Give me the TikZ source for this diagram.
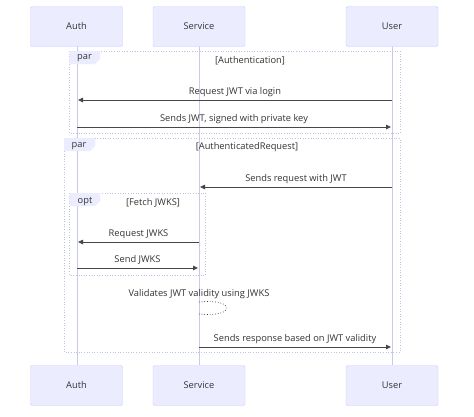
\documentclass[tikz,border=0pt]{standalone}
\usepackage{fontspec}
\setmainfont{Open Sans}
\usetikzlibrary{arrows.meta}
\definecolor{actfill}{HTML}{ECECFF}
\definecolor{actline}{HTML}{CCCCFF}
\definecolor{lifeline}{HTML}{C8C8F0}
\definecolor{framec}{HTML}{C0C0E0}
\definecolor{txt}{HTML}{333333}
\tikzset{
  actor/.style={draw=actline, fill=actfill, rounded corners=1.5pt, minimum width=92pt, minimum height=40pt, inner sep=0pt, font=\fontsize{9.3}{11}\selectfont, text=txt},
  msg/.style={draw=txt!90, line width=0.8pt, -{Triangle[length=5pt,width=4.5pt]}},
  msglabel/.style={font=\fontsize{9.3}{11}\selectfont, text=txt, inner sep=0pt},
  life/.style={draw=lifeline, line width=0.6pt},
  frame/.style={draw=framec, dotted, line width=0.6pt},
  tab/.style={fill=actfill, draw=none},
  tablabel/.style={font=\fontsize{9.3}{11}\selectfont, text=txt, inner sep=0pt, anchor=west},
  condlabel/.style={font=\fontsize{9.3}{11}\selectfont, text=txt, inner sep=0pt}
}
\begin{document}
\begin{tikzpicture}[x=1pt,y=-1pt]
\useasboundingbox (0,0) rectangle (474,416);
\fill[white] (0,0) rectangle (474,416);
% lifelines
\coordinate (a1) at (77,46); \coordinate (a2) at (77,365);
\coordinate (s1) at (199,46); \coordinate (s2) at (199,365);
\coordinate (u1) at (392,46); \coordinate (u2) at (392,365);
\draw[life] (a1) -- (a2);
\draw[life] (s1) -- (s2);
\draw[life] (u1) -- (u2);
% actors
\node[actor] (authT) at (76.5,26.5) {Auth};
\node[actor] (servT) at (199,26.5) {Service};
\node[actor] (userT) at (392,26.5) {User};
\node[actor] (authB) at (76.5,385.5) {Auth};
\node[actor] (servB) at (199,385.5) {Service};
\node[actor] (userB) at (392,385.5) {User};
% par 1
\draw[frame] (69.5,51) rectangle (400,133);
\fill[tab] (69.5,51) -- (100,51) -- (100,59) -- (95,64) -- (69.5,64) -- cycle;
\node[tablabel] (p1) at (77,58.5) {par};
\node[condlabel] (c1) at (250,60.5) {[Authentication]};
% par 2
\draw[frame] (64,138) rectangle (400,352);
\fill[tab] (64,138) -- (95,138) -- (95,146) -- (90,151) -- (64,151) -- cycle;
\node[tablabel] (p2) at (71.5,146.5) {par};
\node[condlabel] (c2) at (247,147.5) {[AuthenticatedRequest]};
% opt
\draw[frame] (69.5,193) rectangle (205.5,275);
\fill[tab] (69.5,193) -- (100,193) -- (100,201) -- (95,206) -- (69.5,206) -- cycle;
\node[tablabel] (o1) at (77.5,201.5) {opt};
\node[condlabel] (c3) at (153,202.5) {[Fetch JWKS]};
% messages
\coordinate (m1s) at (392,100); \coordinate (m1e) at (78,100);
\draw[msg] (m1s) -- node[msglabel, above=3pt] (l1) {Request JWT via login} (m1e);
\coordinate (m2s) at (77,127); \coordinate (m2e) at (391,127);
\draw[msg] (m2s) -- node[msglabel, above=3pt] (l2) {Sends JWT, signed with private key} (m2e);
\coordinate (m3s) at (392,187); \coordinate (m3e) at (200,187);
\draw[msg] (m3s) -- node[msglabel, above=3pt] (l3) {Sends request with JWT} (m3e);
\coordinate (m4s) at (199,242); \coordinate (m4e) at (78,242);
\draw[msg] (m4s) -- node[msglabel, above=3pt] (l4) {Request JWKS} (m4e);
\coordinate (m5s) at (77,268); \coordinate (m5e) at (198,268);
\draw[msg] (m5s) -- node[msglabel, above=3pt] (l5) {Send JWKS} (m5e);
% self loop
\node[msglabel] (l6) at (199,294) {Validates JWT validity using JWKS};
\coordinate (sl1) at (199,302); \coordinate (sl2) at (199,314);
\draw[draw=txt, dotted, line width=0.7pt] (sl1) .. controls (236,298) and (236,318) .. (sl2);
\coordinate (m7s) at (199,347); \coordinate (m7e) at (391,347);
\draw[msg] (m7s) -- node[msglabel, above=3pt] (l7) {Sends response based on JWT validity} (m7e);
\end{tikzpicture}
\end{document}
